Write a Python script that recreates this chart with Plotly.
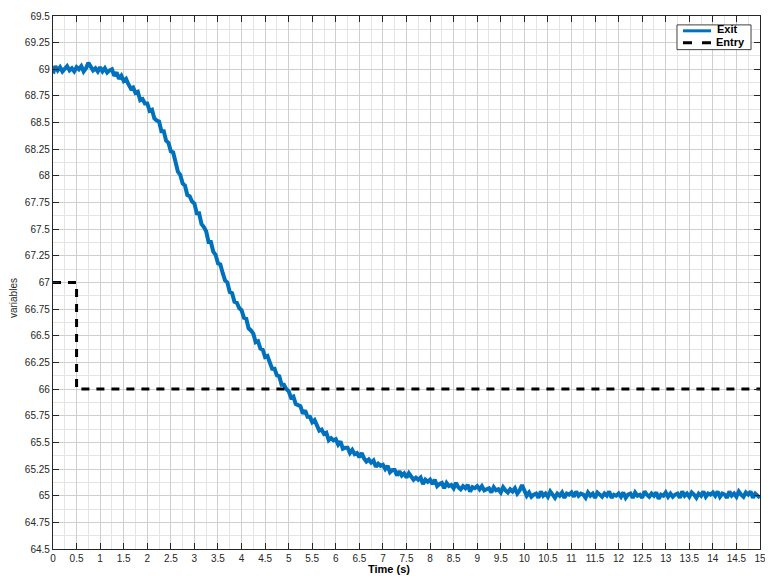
import plotly.graph_objects as go

# ---------------- data ----------------
TIME_START = 0.0
TIME_STEP = 0.05  # seconds between Exit samples

EXIT_VALUES = [
    # 0.00 - 0.95
    68.96, 69.03, 68.99, 69.02, 68.98, 69.01, 69.03, 68.99, 69.01, 68.98,
    69.02, 69.00, 69.03, 68.98, 69.01, 69.06, 69.02, 68.99, 69.01, 68.98,
    # 1.00 - 1.95
    69.02, 68.98, 69.01, 68.97, 68.99, 69.00, 68.94, 68.97, 68.91, 68.94,
    68.89, 68.91, 68.86, 68.82, 68.83, 68.78, 68.79, 68.71, 68.72, 68.68,
    # 2.00 - 2.95
    68.68, 68.61, 68.62, 68.54, 68.52, 68.51, 68.42, 68.42, 68.33, 68.31,
    68.23, 68.22, 68.13, 68.04, 68.01, 67.93, 67.91, 67.82, 67.81, 67.76,
    # 3.00 - 3.95
    67.74, 67.65, 67.65, 67.55, 67.52, 67.48, 67.38, 67.38, 67.29, 67.26,
    67.18, 67.17, 67.09, 67.02, 67.00, 66.91, 66.90, 66.82, 66.81, 66.76,
    # 4.00 - 4.95
    66.74, 66.67, 66.66, 66.57, 66.55, 66.52, 66.44, 66.45, 66.38, 66.37,
    66.30, 66.31, 66.25, 66.19, 66.19, 66.13, 66.12, 66.04, 66.04, 66.00,
    # 5.00 - 5.95
    65.98, 65.92, 65.93, 65.86, 65.85, 65.84, 65.77, 65.80, 65.74, 65.74,
    65.69, 65.71, 65.66, 65.61, 65.62, 65.58, 65.59, 65.52, 65.54, 65.52,
    # 6.00 - 6.95
    65.53, 65.48, 65.51, 65.44, 65.45, 65.45, 65.40, 65.43, 65.39, 65.40,
    65.36, 65.40, 65.35, 65.32, 65.34, 65.31, 65.33, 65.27, 65.30, 65.28,
    # 7.00 - 7.95
    65.29, 65.25, 65.28, 65.22, 65.24, 65.24, 65.19, 65.23, 65.19, 65.21,
    65.17, 65.21, 65.18, 65.15, 65.17, 65.15, 65.17, 65.11, 65.15, 65.13,
    # 8.00 - 8.95
    65.15, 65.11, 65.15, 65.09, 65.11, 65.12, 65.07, 65.12, 65.09, 65.10,
    65.07, 65.12, 65.08, 65.06, 65.09, 65.07, 65.10, 65.04, 65.08, 65.07,
    # 9.00 - 9.95
    65.09, 65.06, 65.09, 65.05, 65.06, 65.07, 65.03, 65.08, 65.05, 65.06,
    65.03, 65.08, 65.05, 65.03, 65.06, 65.04, 65.07, 65.02, 65.05, 65.10,
    # 10.00 - 10.95
    65.05, 65.00, 65.03, 64.99, 65.01, 65.02, 64.98, 65.04, 65.00, 65.02,
    64.99, 65.04, 65.01, 64.98, 65.02, 65.00, 65.03, 64.98, 65.02, 65.01,
    # 11.00 - 11.95
    65.03, 64.99, 65.04, 65.00, 65.02, 65.01, 64.98, 65.03, 65.00, 65.02,
    64.98, 65.03, 65.01, 64.99, 65.02, 65.00, 65.04, 64.98, 65.01, 65.00,
    # 12.00 - 12.95
    65.02, 64.99, 65.03, 64.98, 65.01, 65.02, 64.98, 65.03, 65.00, 65.01,
    64.98, 65.04, 65.01, 64.99, 65.02, 65.00, 65.03, 64.97, 65.01, 65.00,
    # 13.00 - 13.95
    65.03, 64.99, 65.02, 64.99, 65.01, 65.02, 64.98, 65.04, 65.00, 65.02,
    64.99, 65.03, 65.01, 64.98, 65.02, 65.00, 65.04, 64.99, 65.02, 65.01,
    # 14.00 - 14.95
    65.03, 65.00, 65.04, 64.99, 65.02, 65.01, 64.98, 65.04, 65.00, 65.02,
    64.99, 65.04, 65.01, 64.99, 65.03, 65.01, 65.04, 64.98, 65.02, 65.00,
    # 15.00
    64.98,
]

ENTRY_TIME = [0, 0.5, 0.5, 15]
ENTRY_VALUES = [67, 67, 66, 66]

SERIES_NAMES = ["Exit", "Entry"]

X_TICKS = [0, 0.5, 1, 1.5, 2, 2.5, 3, 3.5, 4, 4.5, 5, 5.5, 6, 6.5, 7, 7.5,
           8, 8.5, 9, 9.5, 10, 10.5, 11, 11.5, 12, 12.5, 13, 13.5, 14, 14.5, 15]
X_TICK_LABELS = ["0", "0.5", "1", "1.5", "2", "2.5", "3", "3.5", "4", "4.5",
                 "5", "5.5", "6", "6.5", "7", "7.5", "8", "8.5", "9", "9.5",
                 "10", "10.5", "11", "11.5", "12", "12.5", "13", "13.5",
                 "14", "14.5", "15"]
Y_TICKS = [64.5, 64.75, 65, 65.25, 65.5, 65.75, 66, 66.25, 66.5, 66.75, 67,
           67.25, 67.5, 67.75, 68, 68.25, 68.5, 68.75, 69, 69.25, 69.5]
Y_TICK_LABELS = ["64.5", "64.75", "65", "65.25", "65.5", "65.75", "66",
                 "66.25", "66.5", "66.75", "67", "67.25", "67.5", "67.75",
                 "68", "68.25", "68.5", "68.75", "69", "69.25", "69.5"]

# ---------------- figure ----------------
FONT = "Liberation Sans, Arial, Helvetica, sans-serif"
INK = "#262626"
BLUE = "#0072BD"

fig = go.Figure()
fig.add_trace(go.Scatter(
    x0=TIME_START, dx=TIME_STEP, y=EXIT_VALUES, mode="lines", name=SERIES_NAMES[0],
    line=dict(color=BLUE, width=4), showlegend=False,
))
fig.add_trace(go.Scatter(
    x=ENTRY_TIME, y=ENTRY_VALUES, mode="lines", name=SERIES_NAMES[1],
    line=dict(color="black", width=3, dash="8px,7px"), showlegend=False,
))

axis_common = dict(
    ticks="inside", ticklen=6, tickwidth=1, tickcolor=INK,
    showline=True, linecolor=INK, linewidth=1.2, mirror="ticks",
    showgrid=True, gridcolor="#cfcfcf", gridwidth=1,
    zeroline=False, ticklabeloverflow="allow",
    tickfont=dict(family=FONT, size=10, color=INK),
)

fig.update_xaxes(
    range=[0, 15], tickmode="array", tickvals=X_TICKS, ticktext=X_TICK_LABELS,
    minor=dict(dtick=0.25, tick0=0, showgrid=True, gridcolor="#e4e4e4", ticks=""),
    **axis_common,
)
fig.update_yaxes(
    range=[64.5, 69.5], tickmode="array", tickvals=Y_TICKS, ticktext=Y_TICK_LABELS,
    minor=dict(dtick=0.125, tick0=64.5, showgrid=True, gridcolor="#e4e4e4", ticks=""),
    **axis_common,
)

# compact MATLAB-style legend box (paper coordinates)
legend_shapes = [
    dict(type="rect", xref="paper", yref="paper", x0=0.8826, x1=0.9873,
         y0=0.9369, y1=0.9833, fillcolor="white",
         line=dict(color="#404040", width=1), layer="above"),
    dict(type="line", xref="paper", yref="paper", x0=0.8911, x1=0.9307,
         y0=0.9722, y1=0.9722, line=dict(color=BLUE, width=3), layer="above"),
    dict(type="line", xref="paper", yref="paper", x0=0.8911, x1=0.9321,
         y0=0.9499, y1=0.9499, line=dict(color="black", width=3, dash="9px,10px"),
         layer="above"),
]

fig.update_layout(
    width=773, height=581,
    margin=dict(l=45, r=21, t=2, b=40),
    paper_bgcolor="#d8eaf5",
    plot_bgcolor="white",
    font=dict(family=FONT, size=10, color=INK),
    showlegend=False,
    shapes=[dict(
        type="rect", xref="paper", yref="paper",
        x0=-0.2, x1=1.0099, y0=-0.2, y1=1.2,
        fillcolor="white", line=dict(width=0), layer="below",
    )] + legend_shapes,
    annotations=[
        dict(text="Time (s)", xref="paper", yref="paper", x=0.475, y=-0.037,
             xanchor="center", yanchor="middle", showarrow=False,
             font=dict(family=FONT, size=11, color="black", weight="bold")),
        dict(text="variables", xref="paper", yref="paper", x=-0.055, y=0.471,
             xanchor="center", yanchor="middle", showarrow=False, textangle=-90,
             font=dict(family=FONT, size=10, color=INK)),
        dict(text=SERIES_NAMES[0], xref="paper", yref="paper", x=0.9365, y=0.975,
             xanchor="left", yanchor="middle", showarrow=False,
             font=dict(family=FONT, size=11, color="black", weight="bold")),
        dict(text=SERIES_NAMES[1], xref="paper", yref="paper", x=0.9350, y=0.951,
             xanchor="left", yanchor="middle", showarrow=False,
             font=dict(family=FONT, size=11, color="black", weight="bold")),
    ],
)

fig.write_html("out.html")
